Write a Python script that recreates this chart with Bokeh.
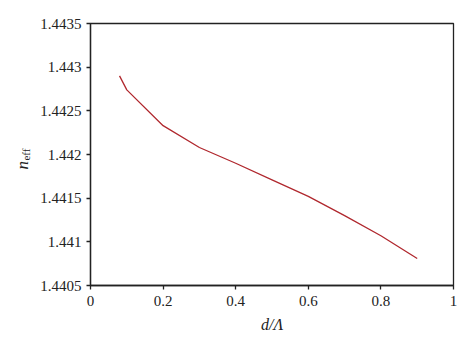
from bokeh.plotting import figure
from bokeh.models import FixedTicker, LinearAxis, Range1d
from bokeh.embed import file_html
from bokeh.resources import INLINE

# data
d_lambda = [0.08, 0.10, 0.20, 0.30, 0.40, 0.50, 0.60, 0.70, 0.80, 0.90]
n_eff = [1.44290, 1.44274, 1.44233, 1.44208, 1.44190, 1.44171, 1.44152, 1.44130, 1.44107, 1.44081]

x_ticks = [0, 0.2, 0.4, 0.6, 0.8, 1]
x_tick_labels = ["0", "0.2", "0.4", "0.6", "0.8", "1"]
y_ticks = [1.4405, 1.441, 1.4415, 1.442, 1.4425, 1.443, 1.4435]
y_tick_labels = ["1.4405", "1.441", "1.4415", "1.442", "1.4425", "1.443", "1.4435"]

FONT = "Liberation Serif"
INK = "#222222"

p = figure(width=474, height=348, output_backend="svg", toolbar_location=None,
           x_range=Range1d(0, 1), y_range=Range1d(1.4405, 1.4435),
           min_border_left=90, min_border_right=21, min_border_top=23, min_border_bottom=63)
p.xgrid.visible = False
p.ygrid.visible = False
p.background_fill_color = "white"
p.border_fill_color = "white"
p.outline_line_color = INK
p.outline_line_width = 1.3

p.line(d_lambda, n_eff, line_color="#b0282e", line_width=1.3)

for ax, ticks, labels in ((p.xaxis[0], x_ticks, x_tick_labels), (p.yaxis[0], y_ticks, y_tick_labels)):
    ax.ticker = FixedTicker(ticks=ticks)
    ax.major_label_overrides = {t: l for t, l in zip(ticks, labels)}
    ax.minor_tick_line_color = None
    ax.major_tick_out = 4
    ax.major_tick_in = 0
    ax.axis_line_color = INK
    ax.axis_line_width = 1.3
    ax.major_tick_line_color = INK
    ax.major_tick_line_width = 1.3
    ax.major_label_text_font = FONT
    ax.major_label_text_font_size = "15px"
    ax.major_label_text_color = INK
    ax.axis_label_text_font = FONT
    ax.axis_label_text_color = INK

p.xaxis.major_label_standoff = 6
p.yaxis.major_label_standoff = 5

# x label
xa = p.xaxis[0]
xa.axis_label = "d/Λ"
xa.axis_label_text_font_style = "italic"
xa.axis_label_text_font_size = "16px"
xa.axis_label_standoff = 7

# y label: subscript "eff" on the inner axis, "n" on an outer label-only axis
ya = p.yaxis[0]
ya.axis_label = "eff"
ya.axis_label_text_font_style = "normal"
ya.axis_label_text_font_size = "11px"
ya.axis_label_standoff = 5

outer = LinearAxis(ticker=FixedTicker(ticks=[]), axis_line_color=None,
                   major_tick_line_color=None, minor_tick_line_color=None,
                   axis_label="n\u00a0\u00a0\u00a0\u00a0\u00a0", axis_label_text_font=FONT,
                   axis_label_text_font_style="italic", axis_label_text_font_size="17px",
                   axis_label_text_color=INK, axis_label_standoff=-14)
p.add_layout(outer, "left")

open("out.html", "w").write(file_html(p, INLINE))
